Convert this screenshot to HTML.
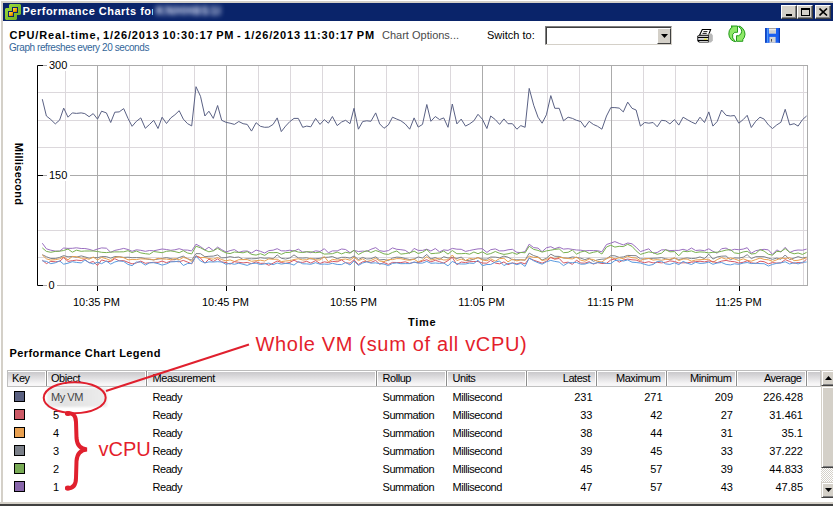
<!DOCTYPE html>
<html><head><meta charset="utf-8"><style>
html,body{margin:0;padding:0}
body{width:833px;height:506px;overflow:hidden;background:#fff;position:relative;font-family:"Liberation Sans",sans-serif;}
.a{position:absolute;white-space:nowrap}
</style></head><body>
<div class="a" style="left:1px;top:1px;width:832px;height:2px;background:#d4d0c8"></div>
<div class="a" style="left:1px;top:1px;width:2px;height:503px;background:#d4d0c8"></div>
<div class="a" style="left:0;top:502px;width:833px;height:2px;background:#d4d0c8"></div>
<div class="a" style="left:0;top:504px;width:833px;height:2px;background:#404040"></div>
<div class="a" style="left:3px;top:3px;width:830px;height:18px;background:#0a246a"></div>
<svg class="a" style="left:3px;top:3px" width="20" height="18" viewBox="3 3 20 18">
<defs><linearGradient id="gi" x1="0" y1="0" x2="1" y2="1"><stop offset="0" stop-color="#a0e040"/><stop offset="1" stop-color="#6aaa20"/></linearGradient>
<linearGradient id="oi" x1="0" y1="0" x2="1" y2="1"><stop offset="0" stop-color="#ffe070"/><stop offset="0.5" stop-color="#f8b000"/><stop offset="1" stop-color="#c07000"/></linearGradient></defs>
<path d="M10 4 H20 L21 5 V14 L20 15 H17 V19 L16 20 H6 L5 19 V9 L6 8 H9 V5 Z M12 7 V11 H8 V17 H14 V13 H18 V7 Z" fill="url(#gi)" fill-rule="evenodd"/>
<rect x="13" y="8" width="4" height="4" fill="url(#oi)"/>
<rect x="9" y="12" width="4" height="4" fill="url(#oi)"/>
<path d="M12.5 12.5 L13.5 11.5" stroke="#f0a800" stroke-width="1"/>
</svg>
<div class="a" style="left:22.5px;top:6.29px;font-size:11px;line-height:11px;font-weight:bold;color:#fff;letter-spacing:0.5px">Performance Charts for</div>
<div class="a" style="left:153px;top:4px;width:68px;height:15px;background:#0a246a"></div>
<div class="a" style="left:156px;top:5px;font-size:12px;line-height:12px;font-weight:bold;color:#e8eeff;filter:blur(2.4px);letter-spacing:0.8px">KNHH8S1I</div>
<div class="a" style="left:781px;top:5px;width:16px;height:14px;background:#d4d0c8;box-sizing:border-box;border-top:1px solid #fff;border-left:1px solid #fff;border-right:1px solid #404040;border-bottom:1px solid #404040;box-shadow:inset -1px -1px 0 #808080;"><div class="a" style="left:4px;top:8px;width:6px;height:2px;background:#000"></div></div>
<div class="a" style="left:797px;top:5px;width:16px;height:14px;background:#d4d0c8;box-sizing:border-box;border-top:1px solid #fff;border-left:1px solid #fff;border-right:1px solid #404040;border-bottom:1px solid #404040;box-shadow:inset -1px -1px 0 #808080;"><div class="a" style="left:3px;top:2px;width:9px;height:8px;box-sizing:border-box;border:1px solid #000;border-top-width:2px"></div></div>
<div class="a" style="left:815px;top:5px;width:16px;height:14px;background:#d4d0c8;box-sizing:border-box;border-top:1px solid #fff;border-left:1px solid #fff;border-right:1px solid #404040;border-bottom:1px solid #404040;box-shadow:inset -1px -1px 0 #808080;"><svg class="a" style="left:3px;top:2px" width="9" height="8" viewBox="0 0 9 8"><path d="M0.5 0.5 L8 7.5 M8 0.5 L0.5 7.5" stroke="#000" stroke-width="1.6"/></svg></div>
<div class="a" style="left:9.5px;top:29.69px;font-size:11px;line-height:11px;font-weight:bold;color:#000;letter-spacing:0.86px;word-spacing:-1.2px">CPU/Real-time, 1/26/2013 10:30:17 PM - 1/26/2013 11:30:17 PM</div>
<div class="a" style="left:382.0px;top:29.69px;font-size:11px;line-height:11px;font-weight:normal;color:#4a4a4a;">Chart Options...</div>
<div class="a" style="left:487.0px;top:29.69px;font-size:11px;line-height:11px;font-weight:normal;color:#000;">Switch to:</div>
<div class="a" style="left:9.0px;top:43.33px;font-size:10px;line-height:10px;font-weight:normal;color:#336699;letter-spacing:-0.42px">Graph refreshes every 20 seconds</div>
<div class="a" style="left:545px;top:26px;width:127px;height:19px;box-sizing:border-box;background:#fff;border-top:1px solid #808080;border-left:1px solid #808080;border-right:1px solid #d4d0c8;border-bottom:1px solid #d4d0c8"><div class="a" style="left:0;top:0;width:125px;height:17px;box-sizing:border-box;border-top:1px solid #404040;border-left:1px solid #404040"></div><div class="a" style="left:111px;top:1px;width:14px;height:16px;box-sizing:border-box;background:#d4d0c8;border-top:1px solid #fff;border-left:1px solid #fff;border-right:1px solid #404040;border-bottom:1px solid #404040"><svg class="a" style="left:3px;top:5px" width="7" height="4"><path d="M0 0 H7 L3.5 4 Z" fill="#000"/></svg></div></div>
<svg class="a" style="left:694px;top:26px" width="22" height="19" viewBox="0 0 22 19">
<path d="M8.3 3.5 H16.6 L14.5 9.2 H5.5 Z" fill="#fff" stroke="#000" stroke-width="1.1"/>
<path d="M9.4 5.6 H13.4 M8.5 7.4 H12.7" stroke="#000" stroke-width="0.9"/>
<path d="M14.5 7.5 L17.5 7.5 L18.8 9.5 L18.8 14.5 L17 16.5 L14 16.5 Z" fill="#b8b8b8"/>
<path d="M4 9.3 H15 L14.5 16.5 H5 L3.3 15 V10.5 Z" fill="#000"/>
<rect x="4.2" y="9.8" width="10" height="1.1" fill="#ddd"/>
<rect x="4.2" y="12" width="10" height="1.9" fill="#d8d8e0"/>
<rect x="10" y="12.7" width="3" height="1" fill="#f0f000"/>
<rect x="5.3" y="15" width="8.6" height="1" fill="#ccc"/>
</svg>
<svg class="a" style="left:724px;top:23px" width="26" height="22" viewBox="0 0 26 22">
<path d="M7.0 3.0 L13.5 3.0 L13.5 9.3 L10.7 9.3 L8.7 11.4 L8.7 15.0 L10.7 17.6 L11.7 18.6 L9.8 18.3 L7.2 16.7 L5.4 13.9 L4.8 10.9 L5.3 7.6 L6.9 5.1 L8.3 4.0 Z" fill="#8ee868" stroke="#109008" stroke-width="0.9"/>
<path d="M14.6 3.1 L16.3 3.4 L18.9 5.6 L20.5 8.3 L21.0 11.3 L20.3 14.4 L18.8 16.6 L18.8 18.3 L12.5 18.3 L12.5 12.7 L14.7 12.7 L17.0 10.8 L17.7 8.3 L17.0 5.7 L15.0 4.1 Z" fill="#8ee868" stroke="#109008" stroke-width="0.9"/>
</svg>
<svg class="a" style="left:762px;top:25px" width="20" height="20" viewBox="0 0 20 20">
<rect x="3.2" y="3" width="14.8" height="14.8" fill="#1a5ef0"/>
<rect x="3.2" y="3" width="1.2" height="14.8" fill="#0a3ab0"/>
<rect x="16.8" y="3" width="1.2" height="14.8" fill="#0a3ab0"/>
<rect x="5" y="3.5" width="1.2" height="14" fill="#4a9aff"/>
<rect x="6.9" y="3" width="7.1" height="5.7" fill="#d0d0d0"/>
<rect x="6.9" y="4.2" width="7.1" height="1" fill="#f4f4f4"/>
<rect x="6.9" y="3" width="7.1" height="0.8" fill="#a09a90"/>
<rect x="7.5" y="11.9" width="6.1" height="5.9" fill="#d4d4d4"/>
<rect x="9.1" y="14" width="0.9" height="2.6" fill="#404040"/>
</svg>
<svg class="a" style="left:0;top:0" width="833" height="506" viewBox="0 0 833 506">
<path d="M38 92.5 H807 M38 120.5 H807 M38 147.5 H807 M38 202.5 H807 M38 230.5 H807 M38 257.5 H807 M65.5 66 V285 M129.5 66 V285 M162.5 66 V285 M194.5 66 V285 M258.5 66 V285 M290.5 66 V285 M322.5 66 V285 M386.5 66 V285 M418.5 66 V285 M450.5 66 V285 M514.5 66 V285 M547.5 66 V285 M579.5 66 V285 M643.5 66 V285 M675.5 66 V285 M707.5 66 V285 M771.5 66 V285 M803.5 66 V285" stroke="#dcd8dc" stroke-width="1" fill="none"/>
<path d="M38 65.5 H807 M38 175.5 H807 M38 285.5 H807 M97.5 66 V285 M226.5 66 V285 M354.5 66 V285 M482.5 66 V285 M611.5 66 V285 M739.5 66 V285 M807.5 65 V286" stroke="#ababab" stroke-width="1" fill="none"/>
<path d="M43 65.5 H37.5 V285.5 H43 M37 175.5 H43" stroke="#000" stroke-width="1" fill="none"/>
<path d="M97.5 286 V291 M226.5 286 V291 M354.5 286 V291 M482.5 286 V291 M611.5 286 V291 M739.5 286 V291" stroke="#000" stroke-width="1" fill="none"/>
<path d="M42.3 243.2 L46.4 248.8 L50.8 250.2 L55.3 251.1 L59.6 251.1 L63.7 248.0 L68.0 248.4 L72.3 248.3 L76.4 247.8 L81.2 248.5 L84.8 248.5 L89.1 249.3 L93.2 250.6 L97.5 249.0 L101.6 247.9 L106.4 248.2 L110.7 252.3 L114.8 250.4 L119.2 249.5 L123.7 248.4 L128.0 249.5 L132.1 251.3 L136.4 249.8 L140.8 250.3 L145.3 251.3 L149.6 250.5 L153.7 250.8 L158.0 249.9 L162.1 249.0 L166.5 249.5 L170.8 250.3 L174.9 249.8 L179.2 248.7 L183.3 250.0 L187.6 250.1 L191.7 250.9 L196.0 244.2 L200.5 246.6 L204.9 249.9 L208.9 247.2 L213.3 250.6 L217.6 247.1 L221.7 249.7 L226.0 252.0 L230.1 250.6 L234.4 249.6 L238.8 252.4 L243.1 251.1 L247.2 251.0 L251.5 253.0 L256.1 250.1 L260.4 251.3 L264.7 253.0 L268.8 250.6 L273.1 250.2 L277.2 248.7 L281.3 250.8 L285.6 250.9 L289.9 250.2 L294.0 251.1 L298.3 249.1 L302.7 252.1 L306.7 251.7 L310.8 252.7 L315.6 250.8 L320.0 251.5 L324.3 248.7 L328.4 252.8 L332.4 250.9 L337.2 250.9 L341.6 249.0 L345.6 249.5 L350.0 252.7 L354.0 250.4 L358.4 251.5 L362.7 251.1 L366.8 251.4 L370.9 249.3 L375.7 247.6 L379.7 250.7 L384.0 251.4 L388.4 250.6 L392.5 247.9 L396.8 249.3 L400.9 249.7 L405.2 250.3 L409.7 253.4 L414.1 248.4 L418.2 250.4 L422.5 250.4 L426.8 249.2 L430.9 251.0 L435.3 248.5 L439.6 251.9 L443.7 249.9 L448.0 250.4 L452.3 248.4 L456.9 249.2 L461.2 249.3 L465.5 251.4 L469.6 250.5 L473.9 249.6 L478.0 248.9 L482.3 248.7 L486.9 252.4 L490.7 249.7 L495.3 248.9 L499.6 250.9 L503.9 250.8 L508.0 249.8 L512.4 249.3 L516.9 252.3 L520.8 252.6 L525.1 251.6 L529.2 244.2 L533.7 247.6 L538.0 248.1 L542.1 251.7 L546.4 247.8 L550.8 246.7 L554.8 248.7 L559.2 247.2 L563.5 249.1 L568.1 248.7 L572.4 249.4 L576.5 250.0 L580.8 250.2 L584.9 250.9 L589.2 250.5 L593.3 250.6 L597.6 250.7 L601.9 251.8 L606.5 244.5 L610.8 243.1 L614.9 241.6 L619.2 243.4 L623.3 244.9 L627.7 243.0 L632.0 243.8 L636.1 247.2 L640.4 251.6 L644.7 250.2 L648.8 248.8 L653.1 253.2 L657.2 252.5 L661.5 249.9 L665.6 249.8 L669.9 250.6 L674.5 250.4 L678.8 250.4 L683.1 249.3 L687.2 250.5 L691.5 248.0 L695.6 250.5 L700.0 250.1 L704.5 250.7 L708.8 248.8 L712.9 251.3 L717.2 253.2 L721.6 248.7 L726.1 248.1 L730.4 250.5 L734.5 249.3 L738.8 249.7 L743.2 249.1 L747.2 247.7 L751.3 253.2 L755.7 250.7 L760.0 249.9 L764.1 249.3 L768.4 249.9 L772.5 254.4 L776.8 249.9 L780.9 252.0 L785.2 247.3 L789.7 252.5 L794.1 250.6 L798.1 250.0 L802.5 250.2 L806.6 249.1" stroke="#9a6fc0" stroke-width="1" fill="none"/>
<path d="M42.3 247.9 L46.4 251.4 L50.8 252.3 L55.3 251.4 L59.6 251.2 L63.7 250.5 L68.0 249.0 L72.3 252.2 L76.4 250.2 L81.2 251.3 L84.8 251.0 L89.1 251.0 L93.2 251.0 L97.5 251.5 L101.6 252.3 L106.4 252.6 L110.7 252.1 L114.8 251.9 L119.2 251.9 L123.7 251.8 L128.0 250.7 L132.1 252.6 L136.4 251.0 L140.8 252.9 L145.3 253.7 L149.6 254.2 L153.7 251.5 L158.0 252.1 L162.1 252.7 L166.5 251.3 L170.8 250.9 L174.9 251.6 L179.2 252.7 L183.3 250.7 L187.6 253.0 L191.7 253.9 L196.0 246.2 L200.5 247.8 L204.9 250.1 L208.9 251.8 L213.3 250.8 L217.6 248.3 L221.7 250.8 L226.0 252.9 L230.1 253.6 L234.4 252.0 L238.8 252.4 L243.1 252.8 L247.2 251.6 L251.5 254.4 L256.1 255.1 L260.4 253.7 L264.7 255.4 L268.8 252.6 L273.1 252.7 L277.2 252.5 L281.3 254.3 L285.6 252.5 L289.9 252.4 L294.0 250.6 L298.3 252.1 L302.7 252.5 L306.7 251.8 L310.8 251.8 L315.6 252.7 L320.0 252.1 L324.3 254.1 L328.4 253.9 L332.4 253.7 L337.2 252.1 L341.6 253.9 L345.6 252.3 L350.0 253.1 L354.0 250.3 L358.4 254.5 L362.7 252.3 L366.8 250.6 L370.9 252.5 L375.7 250.5 L379.7 251.9 L384.0 253.9 L388.4 254.4 L392.5 252.4 L396.8 251.0 L400.9 254.1 L405.2 253.6 L409.7 252.8 L414.1 251.1 L418.2 253.5 L422.5 252.2 L426.8 249.5 L430.9 253.7 L435.3 253.3 L439.6 252.9 L443.7 251.0 L448.0 254.1 L452.3 250.5 L456.9 253.7 L461.2 253.7 L465.5 253.4 L469.6 254.2 L473.9 252.0 L478.0 253.7 L482.3 251.8 L486.9 254.4 L490.7 253.6 L495.3 251.5 L499.6 253.3 L503.9 254.4 L508.0 253.8 L512.4 252.6 L516.9 254.3 L520.8 252.4 L525.1 252.8 L529.2 246.2 L533.7 249.4 L538.0 250.4 L542.1 252.1 L546.4 250.9 L550.8 250.2 L554.8 249.4 L559.2 248.9 L563.5 252.7 L568.1 252.3 L572.4 250.0 L576.5 254.1 L580.8 252.0 L584.9 251.0 L589.2 253.4 L593.3 252.3 L597.6 251.4 L601.9 254.0 L606.5 247.0 L610.8 245.2 L614.9 247.1 L619.2 246.3 L623.3 246.6 L627.7 244.3 L632.0 246.3 L636.1 250.8 L640.4 254.4 L644.7 253.1 L648.8 251.9 L653.1 252.6 L657.2 254.3 L661.5 253.2 L665.6 249.7 L669.9 251.8 L674.5 251.6 L678.8 255.8 L683.1 251.2 L687.2 251.7 L691.5 250.9 L695.6 252.5 L700.0 251.9 L704.5 252.2 L708.8 252.9 L712.9 252.3 L717.2 252.2 L721.6 251.3 L726.1 250.1 L730.4 249.7 L734.5 252.9 L738.8 253.5 L743.2 251.9 L747.2 251.3 L751.3 254.0 L755.7 253.5 L760.0 249.6 L764.1 251.1 L768.4 254.3 L772.5 255.1 L776.8 251.4 L780.9 251.7 L785.2 248.6 L789.7 252.3 L794.1 253.8 L798.1 253.0 L802.5 254.4 L806.6 252.4" stroke="#78b050" stroke-width="1" fill="none"/>
<path d="M42.3 254.7 L46.4 256.7 L50.8 258.5 L55.3 258.6 L59.6 257.4 L63.7 255.6 L68.0 256.8 L72.3 256.5 L76.4 257.2 L81.2 255.9 L84.8 256.8 L89.1 258.2 L93.2 257.5 L97.5 257.7 L101.6 256.6 L106.4 256.6 L110.7 258.2 L114.8 256.5 L119.2 256.7 L123.7 257.4 L128.0 257.2 L132.1 257.7 L136.4 257.6 L140.8 257.7 L145.3 258.6 L149.6 259.5 L153.7 259.8 L158.0 259.1 L162.1 258.4 L166.5 257.6 L170.8 258.6 L174.9 259.7 L179.2 257.5 L183.3 256.1 L187.6 258.8 L191.7 260.1 L196.0 253.6 L200.5 253.7 L204.9 256.7 L208.9 256.3 L213.3 256.1 L217.6 254.9 L221.7 257.9 L226.0 257.6 L230.1 256.6 L234.4 257.5 L238.8 257.0 L243.1 259.5 L247.2 258.7 L251.5 258.8 L256.1 258.6 L260.4 257.7 L264.7 258.3 L268.8 258.0 L273.1 258.7 L277.2 254.9 L281.3 258.3 L285.6 259.0 L289.9 258.0 L294.0 254.9 L298.3 257.9 L302.7 258.1 L306.7 257.8 L310.8 258.9 L315.6 258.8 L320.0 258.3 L324.3 257.4 L328.4 257.2 L332.4 256.5 L337.2 258.7 L341.6 257.3 L345.6 257.3 L350.0 258.2 L354.0 256.0 L358.4 259.5 L362.7 257.4 L366.8 259.0 L370.9 258.7 L375.7 256.8 L379.7 259.9 L384.0 259.5 L388.4 260.6 L392.5 258.1 L396.8 257.1 L400.9 257.4 L405.2 258.5 L409.7 259.5 L414.1 259.0 L418.2 257.0 L422.5 258.0 L426.8 254.4 L430.9 258.9 L435.3 257.5 L439.6 259.6 L443.7 256.7 L448.0 258.0 L452.3 257.4 L456.9 258.5 L461.2 257.1 L465.5 260.6 L469.6 260.3 L473.9 259.1 L478.0 257.6 L482.3 259.1 L486.9 259.1 L490.7 257.0 L495.3 257.1 L499.6 257.8 L503.9 256.1 L508.0 257.2 L512.4 259.7 L516.9 259.8 L520.8 259.8 L525.1 260.1 L529.2 253.1 L533.7 255.6 L538.0 256.9 L542.1 260.0 L546.4 258.3 L550.8 254.2 L554.8 256.3 L559.2 256.4 L563.5 258.0 L568.1 258.2 L572.4 256.9 L576.5 257.5 L580.8 258.2 L584.9 259.6 L589.2 258.2 L593.3 261.3 L597.6 259.8 L601.9 259.2 L606.5 258.8 L610.8 255.7 L614.9 255.8 L619.2 257.4 L623.3 256.9 L627.7 255.4 L632.0 255.6 L636.1 255.7 L640.4 258.8 L644.7 259.1 L648.8 258.5 L653.1 258.3 L657.2 258.1 L661.5 257.6 L665.6 258.7 L669.9 259.8 L674.5 258.2 L678.8 259.4 L683.1 258.6 L687.2 257.9 L691.5 258.6 L695.6 258.3 L700.0 256.9 L704.5 258.6 L708.8 254.2 L712.9 259.1 L717.2 256.9 L721.6 256.2 L726.1 256.0 L730.4 259.7 L734.5 257.9 L738.8 258.1 L743.2 257.2 L747.2 254.7 L751.3 258.6 L755.7 256.7 L760.0 256.6 L764.1 256.7 L768.4 258.1 L772.5 259.3 L776.8 258.1 L780.9 259.3 L785.2 255.0 L789.7 259.6 L794.1 258.1 L798.1 256.6 L802.5 258.0 L806.6 257.2" stroke="#7d8289" stroke-width="1" fill="none"/>
<path d="M42.3 255.0 L46.4 258.8 L50.8 260.1 L55.3 259.7 L59.6 258.8 L63.7 256.9 L68.0 259.8 L72.3 256.5 L76.4 256.7 L81.2 258.3 L84.8 258.1 L89.1 259.3 L93.2 257.0 L97.5 260.0 L101.6 257.4 L106.4 258.8 L110.7 260.5 L114.8 257.5 L119.2 256.8 L123.7 257.7 L128.0 259.8 L132.1 259.5 L136.4 259.6 L140.8 258.8 L145.3 259.1 L149.6 258.9 L153.7 260.0 L158.0 258.3 L162.1 259.0 L166.5 259.1 L170.8 259.7 L174.9 258.6 L179.2 259.8 L183.3 257.4 L187.6 258.6 L191.7 261.5 L196.0 255.9 L200.5 257.5 L204.9 257.6 L208.9 258.5 L213.3 259.2 L217.6 257.5 L221.7 259.6 L226.0 260.9 L230.1 259.9 L234.4 261.5 L238.8 259.7 L243.1 259.6 L247.2 259.6 L251.5 261.3 L256.1 260.7 L260.4 260.2 L264.7 261.0 L268.8 258.9 L273.1 259.3 L277.2 259.2 L281.3 261.6 L285.6 261.0 L289.9 260.6 L294.0 259.5 L298.3 258.8 L302.7 260.0 L306.7 259.7 L310.8 258.3 L315.6 259.9 L320.0 260.0 L324.3 256.5 L328.4 261.8 L332.4 259.4 L337.2 260.1 L341.6 259.5 L345.6 259.0 L350.0 260.2 L354.0 257.2 L358.4 260.7 L362.7 258.8 L366.8 261.5 L370.9 260.5 L375.7 258.3 L379.7 261.0 L384.0 261.7 L388.4 259.5 L392.5 259.6 L396.8 258.6 L400.9 258.7 L405.2 259.7 L409.7 260.3 L414.1 259.2 L418.2 261.9 L422.5 260.1 L426.8 256.6 L430.9 260.1 L435.3 259.0 L439.6 258.6 L443.7 260.0 L448.0 259.8 L452.3 255.0 L456.9 260.6 L461.2 259.1 L465.5 260.5 L469.6 258.4 L473.9 259.2 L478.0 257.6 L482.3 260.0 L486.9 260.7 L490.7 258.8 L495.3 261.2 L499.6 258.6 L503.9 258.3 L508.0 261.8 L512.4 259.2 L516.9 260.9 L520.8 259.8 L525.1 260.1 L529.2 256.1 L533.7 257.4 L538.0 257.4 L542.1 260.5 L546.4 259.7 L550.8 257.1 L554.8 258.9 L559.2 257.3 L563.5 257.8 L568.1 258.5 L572.4 258.9 L576.5 257.1 L580.8 260.2 L584.9 261.2 L589.2 259.0 L593.3 259.5 L597.6 261.4 L601.9 262.0 L606.5 258.5 L610.8 257.3 L614.9 258.9 L619.2 257.8 L623.3 258.7 L627.7 256.2 L632.0 257.7 L636.1 258.0 L640.4 260.7 L644.7 258.7 L648.8 258.5 L653.1 260.1 L657.2 259.6 L661.5 260.2 L665.6 259.4 L669.9 259.2 L674.5 257.8 L678.8 260.6 L683.1 259.0 L687.2 259.1 L691.5 261.2 L695.6 260.0 L700.0 259.7 L704.5 259.4 L708.8 259.3 L712.9 262.3 L717.2 259.6 L721.6 257.6 L726.1 259.2 L730.4 257.9 L734.5 259.0 L738.8 260.5 L743.2 258.8 L747.2 260.3 L751.3 261.2 L755.7 259.6 L760.0 258.1 L764.1 259.4 L768.4 259.8 L772.5 261.4 L776.8 259.8 L780.9 258.0 L785.2 258.5 L789.7 257.7 L794.1 260.6 L798.1 260.3 L802.5 259.2 L806.6 257.7" stroke="#e8a04e" stroke-width="1" fill="none"/>
<path d="M42.3 260.2 L46.4 263.6 L50.8 261.4 L55.3 261.8 L59.6 261.4 L63.7 257.6 L68.0 261.4 L72.3 260.7 L76.4 260.1 L81.2 260.6 L84.8 259.4 L89.1 262.8 L93.2 261.5 L97.5 265.5 L101.6 259.9 L106.4 261.4 L110.7 261.5 L114.8 258.7 L119.2 260.8 L123.7 260.6 L128.0 262.3 L132.1 263.9 L136.4 262.9 L140.8 261.1 L145.3 263.3 L149.6 262.7 L153.7 262.3 L158.0 262.4 L162.1 261.1 L166.5 262.7 L170.8 261.1 L174.9 261.4 L179.2 261.8 L183.3 260.4 L187.6 262.1 L191.7 263.9 L196.0 255.9 L200.5 258.1 L204.9 263.1 L208.9 259.1 L213.3 261.5 L217.6 258.9 L221.7 261.9 L226.0 262.6 L230.1 264.1 L234.4 261.7 L238.8 262.3 L243.1 262.9 L247.2 262.4 L251.5 263.7 L256.1 261.8 L260.4 263.4 L264.7 263.2 L268.8 265.3 L273.1 263.2 L277.2 261.0 L281.3 262.5 L285.6 263.4 L289.9 262.4 L294.0 260.2 L298.3 262.2 L302.7 262.4 L306.7 261.3 L310.8 263.1 L315.6 260.6 L320.0 263.5 L324.3 261.8 L328.4 262.6 L332.4 261.4 L337.2 261.8 L341.6 259.9 L345.6 262.8 L350.0 263.2 L354.0 259.8 L358.4 264.5 L362.7 261.8 L366.8 261.6 L370.9 262.5 L375.7 260.4 L379.7 264.2 L384.0 262.5 L388.4 264.4 L392.5 262.4 L396.8 262.5 L400.9 262.6 L405.2 261.8 L409.7 263.4 L414.1 262.2 L418.2 262.6 L422.5 261.1 L426.8 259.7 L430.9 261.9 L435.3 260.3 L439.6 261.7 L443.7 263.1 L448.0 260.6 L452.3 257.4 L456.9 264.7 L461.2 262.0 L465.5 262.6 L469.6 261.7 L473.9 261.5 L478.0 261.5 L482.3 263.0 L486.9 263.2 L490.7 260.4 L495.3 263.1 L499.6 263.8 L503.9 261.9 L508.0 264.6 L512.4 262.9 L516.9 263.9 L520.8 262.5 L525.1 263.9 L529.2 258.2 L533.7 260.2 L538.0 261.7 L542.1 263.2 L546.4 261.3 L550.8 257.6 L554.8 259.1 L559.2 258.5 L563.5 263.0 L568.1 262.1 L572.4 264.4 L576.5 260.2 L580.8 263.0 L584.9 263.2 L589.2 261.7 L593.3 264.1 L597.6 262.5 L601.9 263.5 L606.5 263.3 L610.8 259.9 L614.9 259.0 L619.2 262.2 L623.3 260.0 L627.7 259.1 L632.0 259.8 L636.1 260.1 L640.4 261.7 L644.7 262.7 L648.8 261.7 L653.1 262.9 L657.2 262.3 L661.5 262.9 L665.6 262.3 L669.9 260.9 L674.5 261.5 L678.8 263.0 L683.1 262.8 L687.2 262.8 L691.5 262.2 L695.6 261.7 L700.0 261.2 L704.5 261.9 L708.8 260.9 L712.9 261.6 L717.2 262.7 L721.6 261.1 L726.1 260.4 L730.4 261.4 L734.5 261.7 L738.8 263.1 L743.2 262.3 L747.2 260.7 L751.3 262.8 L755.7 263.5 L760.0 261.2 L764.1 261.7 L768.4 263.8 L772.5 262.6 L776.8 263.1 L780.9 262.8 L785.2 259.6 L789.7 261.5 L794.1 263.3 L798.1 262.5 L802.5 262.9 L806.6 259.1" stroke="#d65a66" stroke-width="1" fill="none"/>
<path d="M42.3 260.9 L46.4 261.4 L50.8 263.7 L55.3 262.8 L59.6 260.9 L63.7 264.2 L68.0 263.2 L72.3 261.7 L76.4 262.4 L81.2 262.9 L84.8 260.1 L89.1 262.6 L93.2 264.0 L97.5 262.1 L101.6 263.7 L106.4 261.0 L110.7 264.1 L114.8 262.0 L119.2 260.8 L123.7 261.5 L128.0 264.4 L132.1 265.7 L136.4 262.1 L140.8 262.1 L145.3 265.1 L149.6 262.8 L153.7 262.7 L158.0 263.6 L162.1 265.1 L166.5 263.9 L170.8 261.9 L174.9 261.7 L179.2 261.0 L183.3 265.5 L187.6 263.5 L191.7 263.4 L196.0 256.1 L200.5 261.0 L204.9 262.9 L208.9 261.9 L213.3 262.0 L217.6 261.7 L221.7 262.0 L226.0 264.3 L230.1 263.3 L234.4 264.3 L238.8 263.2 L243.1 264.3 L247.2 265.4 L251.5 263.5 L256.1 263.2 L260.4 264.5 L264.7 263.9 L268.8 263.1 L273.1 264.7 L277.2 263.0 L281.3 264.1 L285.6 263.4 L289.9 263.7 L294.0 265.1 L298.3 261.6 L302.7 263.8 L306.7 263.9 L310.8 264.3 L315.6 262.7 L320.0 264.2 L324.3 264.1 L328.4 264.3 L332.4 263.3 L337.2 264.5 L341.6 264.6 L345.6 262.5 L350.0 265.0 L354.0 260.9 L358.4 265.4 L362.7 263.0 L366.8 261.8 L370.9 263.1 L375.7 262.9 L379.7 263.6 L384.0 264.1 L388.4 265.6 L392.5 263.4 L396.8 262.9 L400.9 263.7 L405.2 263.6 L409.7 263.6 L414.1 262.1 L418.2 263.2 L422.5 263.1 L426.8 261.4 L430.9 263.3 L435.3 263.0 L439.6 263.4 L443.7 263.0 L448.0 265.9 L452.3 261.4 L456.9 263.7 L461.2 264.0 L465.5 264.0 L469.6 263.1 L473.9 263.4 L478.0 260.2 L482.3 265.7 L486.9 264.5 L490.7 264.5 L495.3 262.1 L499.6 261.0 L503.9 265.6 L508.0 263.5 L512.4 263.1 L516.9 264.7 L520.8 263.3 L525.1 266.4 L529.2 258.1 L533.7 260.8 L538.0 262.7 L542.1 264.2 L546.4 261.8 L550.8 260.4 L554.8 261.4 L559.2 262.1 L563.5 265.6 L568.1 262.8 L572.4 262.7 L576.5 262.4 L580.8 264.2 L584.9 264.1 L589.2 262.7 L593.3 263.6 L597.6 262.7 L601.9 262.3 L606.5 263.5 L610.8 263.5 L614.9 260.6 L619.2 260.0 L623.3 261.1 L627.7 259.9 L632.0 262.2 L636.1 262.5 L640.4 263.0 L644.7 264.4 L648.8 265.4 L653.1 264.5 L657.2 261.5 L661.5 261.2 L665.6 263.9 L669.9 264.4 L674.5 262.8 L678.8 264.6 L683.1 261.4 L687.2 263.2 L691.5 264.5 L695.6 262.3 L700.0 263.4 L704.5 263.2 L708.8 262.1 L712.9 264.3 L717.2 263.0 L721.6 262.5 L726.1 264.4 L730.4 264.9 L734.5 263.8 L738.8 264.3 L743.2 263.1 L747.2 262.5 L751.3 263.6 L755.7 263.2 L760.0 263.6 L764.1 263.7 L768.4 266.0 L772.5 264.4 L776.8 263.3 L780.9 262.9 L785.2 261.8 L789.7 264.0 L794.1 262.7 L798.1 263.9 L802.5 262.3 L806.6 262.0" stroke="#5b9be0" stroke-width="1" fill="none"/>
<path d="M42.3 99.2 L46.4 116.0 L50.8 119.5 L55.3 123.9 L59.6 120.1 L63.7 108.1 L68.0 117.2 L72.3 112.9 L76.4 113.4 L81.2 112.9 L84.8 113.6 L89.1 116.7 L93.2 113.6 L97.5 119.1 L101.6 111.2 L106.4 112.9 L110.7 122.5 L114.8 112.2 L119.2 111.9 L123.7 108.6 L128.0 118.4 L132.1 126.3 L136.4 121.3 L140.8 117.9 L145.3 128.3 L149.6 124.4 L153.7 120.3 L158.0 128.5 L162.1 117.2 L166.5 123.5 L170.8 117.9 L174.9 114.8 L179.2 110.7 L183.3 119.1 L187.6 123.7 L191.7 125.9 L196.0 86.7 L200.5 96.3 L204.9 116.0 L208.9 111.2 L213.3 118.4 L217.6 105.5 L221.7 120.3 L226.0 122.3 L230.1 123.2 L234.4 124.4 L238.8 121.5 L243.1 123.7 L247.2 124.4 L251.5 131.1 L256.1 122.7 L260.4 126.3 L264.7 127.3 L268.8 127.1 L273.1 124.4 L277.2 117.9 L281.3 131.6 L285.6 126.1 L289.9 121.5 L294.0 118.4 L298.3 118.4 L302.7 127.3 L306.7 126.1 L310.8 126.8 L315.6 118.4 L320.0 124.4 L324.3 119.6 L328.4 123.2 L332.4 116.5 L337.2 125.6 L341.6 122.0 L345.6 120.3 L350.0 123.7 L354.0 108.3 L358.4 129.2 L362.7 121.5 L366.8 120.8 L370.9 121.3 L375.7 112.9 L379.7 123.9 L384.0 128.3 L388.4 124.9 L392.5 117.2 L396.8 119.1 L400.9 120.8 L405.2 123.9 L409.7 129.2 L414.1 117.9 L418.2 127.1 L422.5 124.4 L426.8 104.5 L430.9 121.3 L435.3 116.5 L439.6 119.6 L443.7 117.9 L448.0 127.3 L452.3 104.0 L456.9 123.9 L461.2 119.1 L465.5 126.1 L469.6 123.9 L473.9 120.8 L478.0 114.3 L482.3 119.1 L486.9 128.5 L490.7 116.0 L495.3 119.6 L499.6 124.4 L503.9 118.9 L508.0 123.7 L512.4 123.7 L516.9 129.2 L520.8 125.6 L525.1 127.3 L529.2 88.4 L533.7 105.2 L538.0 117.2 L542.1 123.2 L546.4 114.8 L550.8 95.6 L554.8 108.3 L559.2 108.3 L563.5 120.8 L568.1 117.2 L572.4 118.4 L576.5 120.3 L580.8 121.5 L584.9 127.3 L589.2 121.3 L593.3 124.4 L597.6 126.3 L601.9 129.2 L606.5 116.0 L610.8 107.6 L614.9 107.6 L619.2 108.1 L623.3 111.9 L627.7 102.1 L632.0 108.3 L636.1 110.0 L640.4 126.1 L644.7 122.5 L648.8 123.2 L653.1 122.5 L657.2 126.8 L661.5 120.3 L665.6 120.8 L669.9 123.9 L674.5 119.6 L678.8 125.1 L683.1 117.2 L687.2 119.6 L691.5 122.0 L695.6 123.9 L700.0 117.2 L704.5 122.5 L708.8 111.9 L712.9 126.1 L717.2 121.5 L721.6 110.0 L726.1 115.3 L730.4 116.0 L734.5 115.5 L738.8 123.2 L743.2 119.6 L747.2 115.3 L751.3 127.5 L755.7 121.3 L760.0 117.2 L764.1 119.1 L768.4 124.9 L772.5 128.5 L776.8 124.9 L780.9 122.3 L785.2 109.3 L789.7 124.9 L794.1 123.7 L798.1 126.1 L802.5 119.6 L806.6 116.0" stroke="#5a6184" stroke-width="1" fill="none"/>
</svg>
<div class="a" style="left:47px;top:60px;width:22.5px;height:11px;background:#fff"></div>
<div class="a" style="left:47px;top:170px;width:22.5px;height:11px;background:#fff"></div>
<div class="a" style="left:47px;top:280px;width:9.5px;height:11px;background:#fff"></div>
<div class="a" style="left:49.0px;top:60.19px;font-size:11px;line-height:11px;font-weight:normal;color:#000;">300</div>
<div class="a" style="left:49.0px;top:170.19px;font-size:11px;line-height:11px;font-weight:normal;color:#000;">150</div>
<div class="a" style="left:48.5px;top:280.19px;font-size:11px;line-height:11px;font-weight:normal;color:#000;">0</div>
<div class="a" style="left:96.5px;top:296.69px;font-size:11px;line-height:11px;transform:translateX(-50%)">10:35 PM</div>
<div class="a" style="left:225.5px;top:296.69px;font-size:11px;line-height:11px;transform:translateX(-50%)">10:45 PM</div>
<div class="a" style="left:353.5px;top:296.69px;font-size:11px;line-height:11px;transform:translateX(-50%)">10:55 PM</div>
<div class="a" style="left:481.5px;top:296.69px;font-size:11px;line-height:11px;transform:translateX(-50%)">11:05 PM</div>
<div class="a" style="left:610.5px;top:296.69px;font-size:11px;line-height:11px;transform:translateX(-50%)">11:15 PM</div>
<div class="a" style="left:738.5px;top:296.69px;font-size:11px;line-height:11px;transform:translateX(-50%)">11:25 PM</div>
<div class="a" style="left:408.0px;top:317.19px;font-size:11px;line-height:11px;font-weight:bold;color:#000;letter-spacing:0.7px">Time</div>
<div class="a" style="left:18px;top:173.5px;font-size:11px;line-height:11px;font-weight:bold;letter-spacing:0.22px;transform:translate(-50%,-50%) rotate(90deg)">Millisecond</div>
<div class="a" style="left:9.5px;top:347.69px;font-size:11px;line-height:11px;font-weight:bold;color:#000;letter-spacing:0.42px">Performance Chart Legend</div>
<div class="a" style="left:7px;top:370px;width:814px;height:17px;box-sizing:border-box;border:1px solid #c0c0c0;border-top-color:#bcbcbc;background:linear-gradient(#ffffff 0,#ffffff 1px,#c9c8cb 1px,#f7f6f7 13px,#f7f6f7 100%)"></div>
<div class="a" style="left:45px;top:371px;width:3px;height:15px;background:linear-gradient(90deg,#fff 0,#fff 1px,#8c8c8c 1px,#8c8c8c 2px,#fff 2px)"></div>
<div class="a" style="left:145px;top:371px;width:3px;height:15px;background:linear-gradient(90deg,#fff 0,#fff 1px,#8c8c8c 1px,#8c8c8c 2px,#fff 2px)"></div>
<div class="a" style="left:375px;top:371px;width:3px;height:15px;background:linear-gradient(90deg,#fff 0,#fff 1px,#8c8c8c 1px,#8c8c8c 2px,#fff 2px)"></div>
<div class="a" style="left:445px;top:371px;width:3px;height:15px;background:linear-gradient(90deg,#fff 0,#fff 1px,#8c8c8c 1px,#8c8c8c 2px,#fff 2px)"></div>
<div class="a" style="left:525px;top:371px;width:3px;height:15px;background:linear-gradient(90deg,#fff 0,#fff 1px,#8c8c8c 1px,#8c8c8c 2px,#fff 2px)"></div>
<div class="a" style="left:595px;top:371px;width:3px;height:15px;background:linear-gradient(90deg,#fff 0,#fff 1px,#8c8c8c 1px,#8c8c8c 2px,#fff 2px)"></div>
<div class="a" style="left:665px;top:371px;width:3px;height:15px;background:linear-gradient(90deg,#fff 0,#fff 1px,#8c8c8c 1px,#8c8c8c 2px,#fff 2px)"></div>
<div class="a" style="left:735px;top:371px;width:3px;height:15px;background:linear-gradient(90deg,#fff 0,#fff 1px,#8c8c8c 1px,#8c8c8c 2px,#fff 2px)"></div>
<div class="a" style="left:805px;top:371px;width:3px;height:15px;background:linear-gradient(90deg,#fff 0,#fff 1px,#8c8c8c 1px,#8c8c8c 2px,#fff 2px)"></div>
<div class="a" style="left:12.0px;top:372.69px;font-size:11px;line-height:11px;font-weight:normal;color:#000;letter-spacing:-0.45px">Key</div>
<div class="a" style="left:51.0px;top:372.69px;font-size:11px;line-height:11px;font-weight:normal;color:#000;letter-spacing:-0.45px">Object</div>
<div class="a" style="left:152.5px;top:372.69px;font-size:11px;line-height:11px;font-weight:normal;color:#000;letter-spacing:-0.45px">Measurement</div>
<div class="a" style="left:382.5px;top:372.69px;font-size:11px;line-height:11px;font-weight:normal;color:#000;letter-spacing:-0.45px">Rollup</div>
<div class="a" style="left:452.5px;top:372.69px;font-size:11px;line-height:11px;font-weight:normal;color:#000;letter-spacing:-0.45px">Units</div>
<div class="a" style="right:243.0px;top:372.69px;font-size:11px;line-height:11px;color:#000;letter-spacing:-0.45px">Latest</div>
<div class="a" style="right:172.5px;top:372.69px;font-size:11px;line-height:11px;color:#000;letter-spacing:-0.45px">Maximum</div>
<div class="a" style="right:101.5px;top:372.69px;font-size:11px;line-height:11px;color:#000;letter-spacing:-0.45px">Minimum</div>
<div class="a" style="right:31.5px;top:372.69px;font-size:11px;line-height:11px;color:#000;letter-spacing:-0.45px">Average</div>
<div class="a" style="left:14px;top:391px;width:11px;height:11px;box-sizing:border-box;border:1px solid #000;background:#5a6080"></div>
<div class="a" style="left:47px;top:388px;width:60px;height:19px;background:linear-gradient(90deg,#ececec,#e2e2e2 30%,#e6e6e6 60%,#ededed);filter:blur(1.2px)"></div>
<div class="a" style="left:51.0px;top:391.69px;font-size:11px;line-height:11px;font-weight:normal;color:#444;letter-spacing:-0.45px">My VM</div>
<div class="a" style="left:152.5px;top:391.69px;font-size:11px;line-height:11px;font-weight:normal;color:#000;letter-spacing:-0.45px">Ready</div>
<div class="a" style="left:382.5px;top:391.69px;font-size:11px;line-height:11px;font-weight:normal;color:#000;letter-spacing:-0.45px">Summation</div>
<div class="a" style="left:452.5px;top:391.69px;font-size:11px;line-height:11px;font-weight:normal;color:#000;letter-spacing:-0.45px">Millisecond</div>
<div class="a" style="right:240.5px;top:391.69px;font-size:11px;line-height:11px;color:#000;">231</div>
<div class="a" style="right:170.5px;top:391.69px;font-size:11px;line-height:11px;color:#000;">271</div>
<div class="a" style="right:100.0px;top:391.69px;font-size:11px;line-height:11px;color:#000;">209</div>
<div class="a" style="right:30.0px;top:391.69px;font-size:11px;line-height:11px;color:#000;">226.428</div>
<div class="a" style="left:14px;top:409px;width:11px;height:11px;box-sizing:border-box;border:1px solid #000;background:#cc5a66"></div>
<div class="a" style="left:53.0px;top:409.69px;font-size:11px;line-height:11px;font-weight:normal;color:#000;">5</div>
<div class="a" style="left:152.5px;top:409.69px;font-size:11px;line-height:11px;font-weight:normal;color:#000;letter-spacing:-0.45px">Ready</div>
<div class="a" style="left:382.5px;top:409.69px;font-size:11px;line-height:11px;font-weight:normal;color:#000;letter-spacing:-0.45px">Summation</div>
<div class="a" style="left:452.5px;top:409.69px;font-size:11px;line-height:11px;font-weight:normal;color:#000;letter-spacing:-0.45px">Millisecond</div>
<div class="a" style="right:240.5px;top:409.69px;font-size:11px;line-height:11px;color:#000;">33</div>
<div class="a" style="right:170.5px;top:409.69px;font-size:11px;line-height:11px;color:#000;">42</div>
<div class="a" style="right:100.0px;top:409.69px;font-size:11px;line-height:11px;color:#000;">27</div>
<div class="a" style="right:30.0px;top:409.69px;font-size:11px;line-height:11px;color:#000;">31.461</div>
<div class="a" style="left:14px;top:427px;width:11px;height:11px;box-sizing:border-box;border:1px solid #000;background:#e8a050"></div>
<div class="a" style="left:53.0px;top:427.69px;font-size:11px;line-height:11px;font-weight:normal;color:#000;">4</div>
<div class="a" style="left:152.5px;top:427.69px;font-size:11px;line-height:11px;font-weight:normal;color:#000;letter-spacing:-0.45px">Ready</div>
<div class="a" style="left:382.5px;top:427.69px;font-size:11px;line-height:11px;font-weight:normal;color:#000;letter-spacing:-0.45px">Summation</div>
<div class="a" style="left:452.5px;top:427.69px;font-size:11px;line-height:11px;font-weight:normal;color:#000;letter-spacing:-0.45px">Millisecond</div>
<div class="a" style="right:240.5px;top:427.69px;font-size:11px;line-height:11px;color:#000;">38</div>
<div class="a" style="right:170.5px;top:427.69px;font-size:11px;line-height:11px;color:#000;">44</div>
<div class="a" style="right:100.0px;top:427.69px;font-size:11px;line-height:11px;color:#000;">31</div>
<div class="a" style="right:30.0px;top:427.69px;font-size:11px;line-height:11px;color:#000;">35.1</div>
<div class="a" style="left:14px;top:445px;width:11px;height:11px;box-sizing:border-box;border:1px solid #000;background:#7a7f88"></div>
<div class="a" style="left:53.0px;top:445.69px;font-size:11px;line-height:11px;font-weight:normal;color:#000;">3</div>
<div class="a" style="left:152.5px;top:445.69px;font-size:11px;line-height:11px;font-weight:normal;color:#000;letter-spacing:-0.45px">Ready</div>
<div class="a" style="left:382.5px;top:445.69px;font-size:11px;line-height:11px;font-weight:normal;color:#000;letter-spacing:-0.45px">Summation</div>
<div class="a" style="left:452.5px;top:445.69px;font-size:11px;line-height:11px;font-weight:normal;color:#000;letter-spacing:-0.45px">Millisecond</div>
<div class="a" style="right:240.5px;top:445.69px;font-size:11px;line-height:11px;color:#000;">39</div>
<div class="a" style="right:170.5px;top:445.69px;font-size:11px;line-height:11px;color:#000;">45</div>
<div class="a" style="right:100.0px;top:445.69px;font-size:11px;line-height:11px;color:#000;">33</div>
<div class="a" style="right:30.0px;top:445.69px;font-size:11px;line-height:11px;color:#000;">37.222</div>
<div class="a" style="left:14px;top:463px;width:11px;height:11px;box-sizing:border-box;border:1px solid #000;background:#78aa55"></div>
<div class="a" style="left:53.0px;top:463.69px;font-size:11px;line-height:11px;font-weight:normal;color:#000;">2</div>
<div class="a" style="left:152.5px;top:463.69px;font-size:11px;line-height:11px;font-weight:normal;color:#000;letter-spacing:-0.45px">Ready</div>
<div class="a" style="left:382.5px;top:463.69px;font-size:11px;line-height:11px;font-weight:normal;color:#000;letter-spacing:-0.45px">Summation</div>
<div class="a" style="left:452.5px;top:463.69px;font-size:11px;line-height:11px;font-weight:normal;color:#000;letter-spacing:-0.45px">Millisecond</div>
<div class="a" style="right:240.5px;top:463.69px;font-size:11px;line-height:11px;color:#000;">45</div>
<div class="a" style="right:170.5px;top:463.69px;font-size:11px;line-height:11px;color:#000;">57</div>
<div class="a" style="right:100.0px;top:463.69px;font-size:11px;line-height:11px;color:#000;">39</div>
<div class="a" style="right:30.0px;top:463.69px;font-size:11px;line-height:11px;color:#000;">44.833</div>
<div class="a" style="left:14px;top:481px;width:11px;height:11px;box-sizing:border-box;border:1px solid #000;background:#8866aa"></div>
<div class="a" style="left:53.0px;top:481.69px;font-size:11px;line-height:11px;font-weight:normal;color:#000;">1</div>
<div class="a" style="left:152.5px;top:481.69px;font-size:11px;line-height:11px;font-weight:normal;color:#000;letter-spacing:-0.45px">Ready</div>
<div class="a" style="left:382.5px;top:481.69px;font-size:11px;line-height:11px;font-weight:normal;color:#000;letter-spacing:-0.45px">Summation</div>
<div class="a" style="left:452.5px;top:481.69px;font-size:11px;line-height:11px;font-weight:normal;color:#000;letter-spacing:-0.45px">Millisecond</div>
<div class="a" style="right:240.5px;top:481.69px;font-size:11px;line-height:11px;color:#000;">47</div>
<div class="a" style="right:170.5px;top:481.69px;font-size:11px;line-height:11px;color:#000;">57</div>
<div class="a" style="right:100.0px;top:481.69px;font-size:11px;line-height:11px;color:#000;">43</div>
<div class="a" style="right:30.0px;top:481.69px;font-size:11px;line-height:11px;color:#000;">47.85</div>
<div class="a" style="left:821px;top:370px;width:12px;height:128px;background:repeating-conic-gradient(#d4d0c8 0 25%,#fff 0 50%) 0 0/2px 2px"></div>
<div class="a" style="left:821px;top:370px;width:14px;height:16px;box-sizing:border-box;background:#d4d0c8;border-top:1px solid #d4d0c8;border-left:1px solid #d4d0c8;border-right:1px solid #404040;border-bottom:1px solid #404040;box-shadow:inset 1px 1px 0 #fff,inset -1px -1px 0 #808080"><svg class="a" style="left:3px;top:5px" width="7" height="4"><path d="M0 4 H7 L3.5 0 Z" fill="#000"/></svg></div>
<div class="a" style="left:821px;top:386px;width:14px;height:82px;box-sizing:border-box;background:#d4d0c8;border-top:1px solid #d4d0c8;border-left:1px solid #d4d0c8;border-right:1px solid #404040;border-bottom:1px solid #404040;box-shadow:inset 1px 1px 0 #fff,inset -1px -1px 0 #808080"></div>
<div class="a" style="left:821px;top:482px;width:14px;height:16px;box-sizing:border-box;background:#d4d0c8;border-top:1px solid #d4d0c8;border-left:1px solid #d4d0c8;border-right:1px solid #404040;border-bottom:1px solid #404040;box-shadow:inset 1px 1px 0 #fff,inset -1px -1px 0 #808080"><svg class="a" style="left:3px;top:5px" width="7" height="4"><path d="M0 0 H7 L3.5 4 Z" fill="#000"/></svg></div>
<svg class="a" style="left:0;top:0" width="833" height="506" viewBox="0 0 833 506">
<ellipse cx="74.7" cy="397.7" rx="31" ry="15.5" stroke="#e0202e" stroke-width="2" fill="none"/>
<path d="M106 391 L249 344.5" stroke="#e0202e" stroke-width="2" fill="none"/>
<path d="M67 413.5 C72 412.5 76 415 76 422 L76.5 438 C77 445 80 449 87 449.5 C80 450 77 454 76.5 461 L76 478 C76 486 72 488.5 67 488.5" stroke="#e0202e" stroke-width="4" fill="none" stroke-linecap="round"/>
<ellipse cx="68" cy="413.5" rx="3" ry="2.4" fill="#e0202e"/><ellipse cx="68" cy="488" rx="3" ry="2.4" fill="#e0202e"/>
</svg>
<div class="a" style="left:255.5px;top:333.57px;font-size:20px;line-height:20px;font-weight:normal;color:#e41e2c;letter-spacing:0.67px">Whole VM (sum of all vCPU)</div>
<div class="a" style="left:98.5px;top:438.87px;font-size:20px;line-height:20px;font-weight:normal;color:#e41e2c;">vCPU</div>
</body></html>
